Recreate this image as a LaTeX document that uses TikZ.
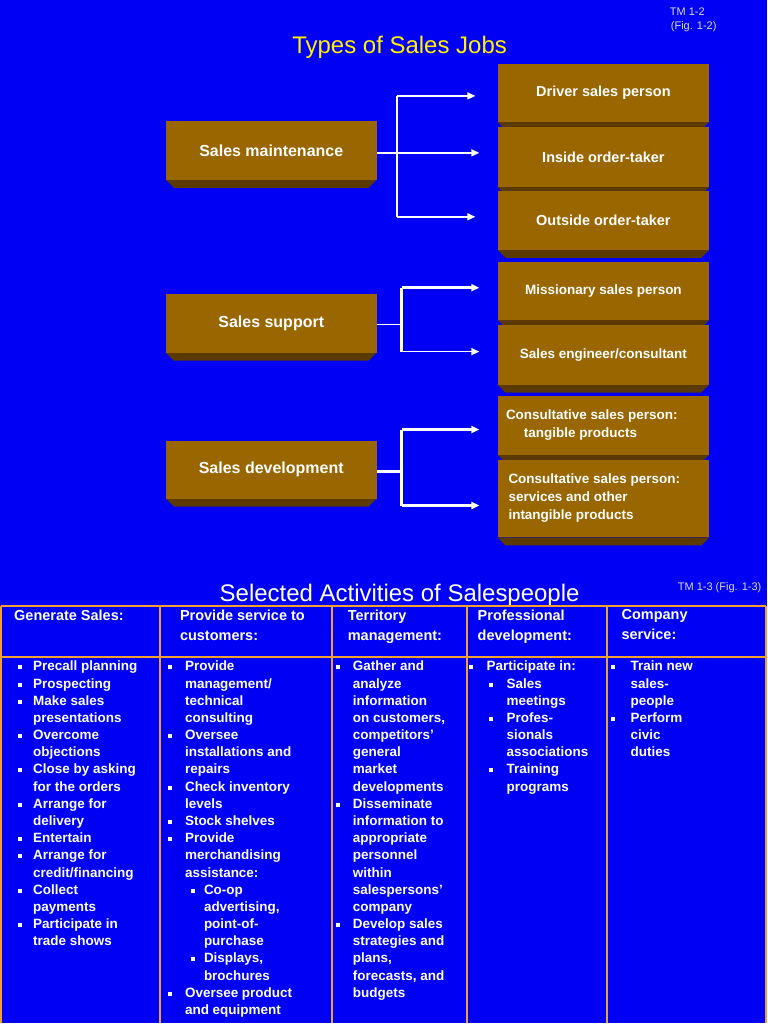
\documentclass[tikz,border=0pt]{standalone}
\usepackage{fontspec}
\setmainfont{Liberation Sans}
\usetikzlibrary{arrows.meta}
\definecolor{bg}{RGB}{0,0,245}
\definecolor{brn}{RGB}{153,102,0}
\definecolor{brnd}{RGB}{90,58,0}
\definecolor{org}{RGB}{240,160,50}
\newcommand{\bbox}[6]{%
  \fill[brnd] (#2,#5) -- (#4,#5) -- (#4-8,#5+8) -- (#2+8,#5+8) -- cycle;
  \node[boxn, minimum width=#4-#2, minimum height=#5-#3] (#1) at ({(#2+#4)/2},{(#3+#5)/2}) {#6};}
\newcommand{\bul}[2]{\fill[white] (#1-2,#2-2) rectangle (#1+2,#2+2);}
\begin{document}
\begin{tikzpicture}[x=1pt,y=-1pt,
  boxn/.style={fill=brn,inner sep=0pt,text=white,font=\bfseries\fontsize{16}{19}\selectfont},
  conn/.style={white,line width=2pt},
  arr/.style={white,line width=2pt,-{Triangle[length=8pt,width=7pt]}},
  txt/.style={anchor=west,inner sep=0pt,text height=10pt,text depth=3pt,text=white,font=\bfseries\fontsize{13.5}{16}\selectfont},
  hd/.style={anchor=north west,inner sep=0pt,text=white,align=left,font=\bfseries\fontsize{14.5}{20}\selectfont},
  tbl/.style={org,line width=2pt}]
\fill[bg] (0,0) rectangle (768,1024);
\node[text=gray!30,anchor=west,font=\fontsize{11}{13}\selectfont] (tm1) at (667,12) {TM 1-2};
\node[text=gray!30,anchor=west,font=\fontsize{11}{13}\selectfont] (tm2) at (668,27) {(Fig. 1-2)};
\node[text=yellow,font=\fontsize{24}{28}\selectfont] (t1) at (400,47) {Types of Sales Jobs};
% left boxes
\bbox{m}{166}{121}{377}{180}{Sales maintenance}
\bbox{s}{166}{294}{377}{353}{Sales support}
\bbox{d}{166}{441}{377}{499}{Sales development}
% right boxes
\bbox{r1}{498}{64}{710}{122}{\fontsize{14.5}{17}\selectfont Driver sales person}
\bbox{r2}{498}{127}{710}{187}{\fontsize{14.5}{17}\selectfont\raisebox{-4pt}{Inside order-taker}}
\bbox{r3}{498}{191}{710}{250}{\fontsize{14.5}{17}\selectfont Outside order-taker}
\bbox{r4}{498}{262}{710}{320}{\fontsize{13.5}{17}\selectfont Missionary sales person}
\bbox{r5}{498}{325}{710}{385}{\fontsize{13.5}{17}\selectfont Sales engineer/consultant}
\bbox{r6}{498}{396}{710}{455}{\parbox{195pt}{\fontsize{13.5}{18}\selectfont Consultative sales person:\\\hspace*{18pt}tangible products}}
\bbox{r7}{498}{460}{710}{538}{\parbox{190pt}{\fontsize{13.5}{18}\selectfont Consultative sales person:\\services and other\\intangible products}}
% connectors
\coordinate (j1) at (397,153);
\draw[conn] (m.east |- j1) -- (j1);
\draw[conn] (397,96) -- (397,217);
\draw[arr,line width=1.5pt] (397,96) -- ([xshift=-22pt]r1.west |- 0,96);
\draw[arr,line width=1.5pt] (j1) -- ([xshift=-18pt]r2.west |- j1);
\draw[arr,line width=1.5pt] (397,217) -- ([xshift=-22pt]r3.west |- 0,217);
\coordinate (j2) at (402,325);
\draw[conn,line width=1.5pt] (s.east |- j2) -- (j2);
\draw[conn,line width=3pt] (402,288) -- (402,352);
\draw[arr,line width=3pt] (402,288) -- ([xshift=-18pt]r4.west |- 0,288);
\draw[arr,line width=1.5pt] (402,352) -- ([xshift=-18pt]r5.west |- 0,352);
\coordinate (j3) at (402,472);
\draw[conn,line width=3pt] (d.east |- j3) -- (j3);
\draw[conn,line width=3pt] (402,430) -- (402,506);
\draw[arr,line width=3pt] (402,430) -- ([xshift=-18pt]r6.west |- 0,430);
\draw[arr,line width=3pt] (402,506) -- ([xshift=-18pt]r7.west |- 0,506);
% second part
\node[text=white,font=\fontsize{24}{28}\selectfont] (t2) at (400,596) {Selected Activities of Salespeople};
\node[text=gray!30,anchor=west,font=\fontsize{11}{13}\selectfont] (tm3) at (675,588) {TM 1-3 (Fig. 1-3)};
\draw[tbl] (1,607) -- (767,607);
\draw[tbl] (1,658) -- (767,658);
\foreach \x in {1,160,332,467,608,767} {\draw[tbl] (\x,607) -- (\x,1024);}
\node[hd] (h1) at (14,610) {Generate Sales:};
\node[hd] (h2) at (180,610) {Provide service to\\customers:};
\node[hd] (h3) at (348,610) {Territory\\management:};
\node[hd] (h4) at (478,610) {Professional\\development:};
\node[hd] (h5) at (622,610) {Company\\service:};
\def\dy{17.2}
\foreach \t [count=\i from 0] in {Precall planning,Prospecting,Make sales,presentations,Overcome,objections,Close by asking,for the orders,Arrange for,delivery,Entertain,Arrange for,credit/financing,Collect,payments,Participate in,trade shows}
  {\node[txt] at (33,668+\i*\dy) {\t};}
\foreach \i in {0,1,2,4,6,8,10,11,13,15} {\bul{20}{668+\i*\dy}}
\foreach \t [count=\i from 0] in {Provide,management/,technical,consulting,Oversee,installations and,repairs,Check inventory,levels,Stock shelves,Provide,merchandising,assistance:}
  {\node[txt] at (185,668+\i*\dy) {\t};}
\foreach \t [count=\i from 13] in {Co-op,{advertising,},point-of-,purchase,{Displays,},brochures}
  {\node[txt] at (204,668+\i*\dy) {\t};}
\foreach \t [count=\i from 19] in {Oversee product,and equipment}
  {\node[txt] at (185,668+\i*\dy) {\t};}
\foreach \i in {0,4,7,9,10,19} {\bul{170}{668+\i*\dy}}
\foreach \i in {13,17} {\bul{193}{668+\i*\dy}}
\foreach \t [count=\i from 0] in {Gather and,analyze,information,{on customers,},competitors',general,market,developments,Disseminate,information to,appropriate,personnel,within,salespersons',company,Develop sales,strategies and,{plans,},{forecasts, and},budgets}
  {\node[txt] at (353,668+\i*\dy) {\t};}
\foreach \i in {0,8,15} {\bul{338}{668+\i*\dy}}
\node[txt] at (487,668) {Participate in:};
\foreach \t [count=\i from 1] in {Sales,meetings,Profes-,sionals,associations,Training,programs}
  {\node[txt] at (507,668+\i*\dy) {\t};}
\bul{471}{668}
\foreach \i in {1,3,6} {\bul{491}{668+\i*\dy}}
\foreach \t [count=\i from 0] in {Train new,sales-,people,Perform,civic,duties}
  {\node[txt] at (631,668+\i*\dy) {\t};}
\foreach \i in {0,3} {\bul{614}{668+\i*\dy}}
\end{tikzpicture}
\end{document}
